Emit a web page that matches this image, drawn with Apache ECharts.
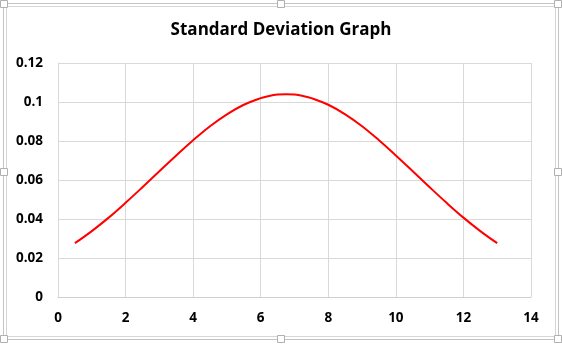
<!DOCTYPE html>
<html>
<head>
<meta charset="utf-8">
<script src="https://cdn.jsdelivr.net/npm/echarts@6/dist/echarts.min.js"></script>
<style>
  html, body { margin: 0; padding: 0; background: #ffffff; }
  #chart { width: 562px; height: 345px; }
</style>
</head>
<body>
<div id="chart"></div>
<script>
// Sample positions along the x axis
const xValues = [0.5, 1, 1.5, 2, 2.5, 3, 3.5, 4, 4.5, 5, 5.5, 6, 6.25, 6.5, 6.75,
                 7, 7.25, 7.5, 8, 8.5, 9, 9.5, 10, 10.5, 11, 11.5, 12, 12.5, 13];
// Probability density at each position
const densityValues = [0.0276, 0.0338, 0.0407, 0.0483, 0.0563, 0.0645, 0.0726, 0.0804,
                       0.0876, 0.0937, 0.0986, 0.1020, 0.1031, 0.1038, 0.1040,
                       0.1038, 0.1031, 0.1020, 0.0986,
                       0.0937, 0.0876, 0.0804, 0.0726, 0.0645, 0.0563, 0.0483, 0.0407,
                       0.0338, 0.0276];
// Axis tick labels
const xTickLabels = ['0', '2', '4', '6', '8', '10', '12', '14'];
const yTickLabels = ['0', '0.02', '0.04', '0.06', '0.08', '0.1', '0.12'];

const chartTitle = 'Standard Deviation Graph';
const fontFamily = '"Open Sans", "Liberation Sans", sans-serif';

const chart = echarts.init(document.getElementById('chart'), null, { renderer: 'canvas' });

// Frame with resize handles around the chart area
const frameColor = '#c4c4c4';
const handles = [
  [4, 4], [281, 4], [558, 4],
  [4, 172], [558, 172],
  [4, 339], [281, 339], [558, 339]
];
const graphics = [
  { type: 'rect', shape: { x: 3.5, y: 3.5, width: 555, height: 336 },
    style: { fill: null, stroke: frameColor, lineWidth: 1 }, silent: true, z: 0 },
  { type: 'rect', shape: { x: 6.5, y: 6.5, width: 549, height: 330 },
    style: { fill: null, stroke: '#d6d6d6', lineWidth: 1 }, silent: true, z: 0 }
].concat(handles.map(function (p) {
  return { type: 'rect', shape: { x: p[0] - 3.5, y: p[1] - 3.5, width: 7, height: 7 },
    style: { fill: '#ffffff', stroke: '#b0b0b0', lineWidth: 1 }, silent: true, z: 1 };
}));

chart.setOption({
  animation: false,
  backgroundColor: '#ffffff',
  title: {
    text: chartTitle,
    left: 'center',
    top: 17,
    textStyle: { fontFamily: fontFamily, fontWeight: 'bold', fontSize: 17, color: '#000000' }
  },
  graphic: graphics,
  grid: { left: 58, right: 31, top: 63, bottom: 48, containLabel: false },
  xAxis: {
    type: 'value',
    min: 0, max: 14, interval: 2,
    axisLine: { show: true, onZero: false, lineStyle: { color: '#cfcfcf', width: 1 } },
    axisTick: { show: false },
    splitLine: { show: true, lineStyle: { color: '#d9d9d9', width: 1 } },
    axisLabel: {
      margin: 14,
      fontFamily: fontFamily, fontWeight: 'bold', fontSize: 13.5, color: '#000000',
      formatter: function (v) { return xTickLabels[Math.round(v / 2)]; }
    }
  },
  yAxis: {
    type: 'value',
    min: 0, max: 0.12, interval: 0.02,
    axisLine: { show: true, lineStyle: { color: '#d9d9d9', width: 1 } },
    axisTick: { show: false },
    splitLine: { show: true, lineStyle: { color: '#d9d9d9', width: 1 } },
    axisLabel: {
      margin: 15,
      fontFamily: fontFamily, fontWeight: 'bold', fontSize: 13.5, color: '#000000',
      formatter: function (v) { return yTickLabels[Math.round(v / 0.02)]; }
    }
  },
  series: [{
    type: 'line',
    data: xValues.map(function (x, i) { return [x, densityValues[i]]; }),
    smooth: 0.4,
    showSymbol: false,
    lineStyle: { color: '#ff0000', width: 2 },
    z: 3
  }]
});
</script>
</body>
</html>
